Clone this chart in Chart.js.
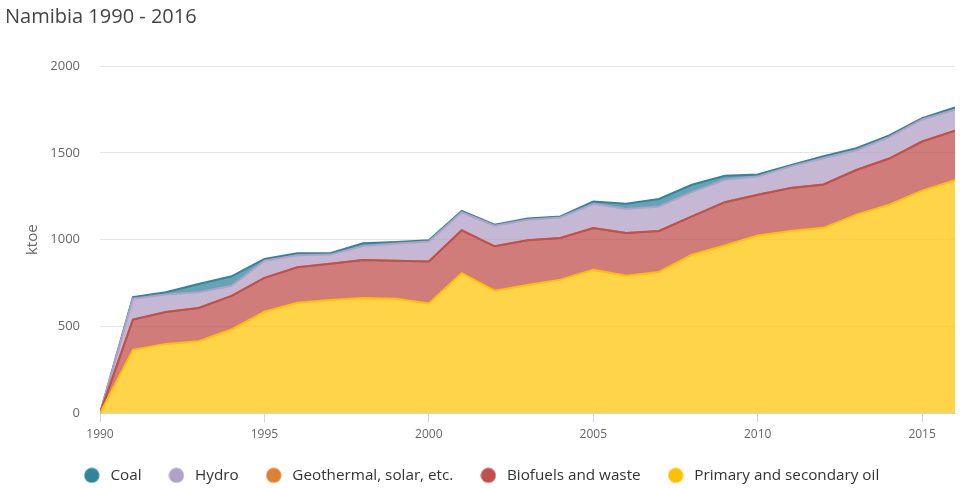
<!DOCTYPE html>
<html>
<head>
<meta charset="utf-8">
<script src="https://cdn.jsdelivr.net/npm/chart.js@4/dist/chart.umd.min.js"></script>
<style>
  html, body { margin: 0; padding: 0; background: #ffffff; }
  #wrap { width: 960px; height: 488px; position: relative; }
</style>
</head>
<body>
<div id="wrap"><canvas id="c" width="960" height="488"></canvas></div>
<script>
const years = [1990,1991,1992,1993,1994,1995,1996,1997,1998,1999,2000,2001,2002,2003,2004,2005,2006,2007,2008,2009,2010,2011,2012,2013,2014,2015,2016];
const oil        = [0,366,400,415,483,585,637,652,664,660,633,807,706,739,770,826,793,814,913,966,1024,1050,1068,1144,1201,1282,1342];
const biofuels   = [0,174,184,192,193,195,204,210,219,219,242,247,256,258,240,241,245,236,221,250,235,247,250,257,266,283,286];
const geothermal = [0,0,0,0,0,0,0,0,0,0,0,0,0,0,0,0,0,0,0,0,0,0,0,0,0,0,0];
const hydro      = [0,120,100,90,59,99,69,52,81,99,115,104,118,118,118,140,139,141,140,129,105,125,151,114,123,127,121];
const coal       = [0,9,13,48,54,10,12,8,15,8,7,7,6,7,6,13,30,43,42,23,11,7,12,12,10,7,13];
const xTicks = [1990,1995,2000,2005,2010,2015];
const yTicks = [0,500,1000,1500,2000];

function dot(color) {
  const c = document.createElement('canvas');
  c.width = 16; c.height = 16;
  const g = c.getContext('2d');
  g.fillStyle = color;
  g.beginPath();
  g.arc(8, 8, 7.6, 0, Math.PI * 2);
  g.fill();
  return c;
}

const seriesDefs = [
  { label: 'Primary and secondary oil', data: oil, line: 'rgb(255,192,0)', fill: 'rgba(255,200,20,0.78)', fillMode: 'origin' },
  { label: 'Biofuels and waste', data: biofuels, line: 'rgb(192,80,77)', fill: 'rgba(192,80,77,0.75)', fillMode: '-1' },
  { label: 'Geothermal, solar, etc.', data: geothermal, line: 'rgb(221,130,52)', fill: 'rgba(221,130,52,0.75)', fillMode: '-1' },
  { label: 'Hydro', data: hydro, line: 'rgb(177,160,199)', fill: 'rgba(177,160,199,0.75)', fillMode: '-1' },
  { label: 'Coal', data: coal, line: 'rgb(49,133,155)', fill: 'rgba(49,133,155,0.75)', fillMode: '-1' }
];

const datasets = seriesDefs.map(s => ({
  label: s.label,
  data: s.data.map((v, i) => ({ x: years[i], y: v })),
  borderColor: s.line,
  backgroundColor: s.fill,
  borderWidth: 2,
  pointRadius: 0,
  pointHoverRadius: 0,
  tension: 0,
  fill: s.fillMode,
  pointStyle: dot(s.line)
}));

const FONT = "'Open Sans', sans-serif";

new Chart(document.getElementById('c'), {
  type: 'line',
  data: { datasets },
  options: {
    responsive: false,
    animation: false,
    devicePixelRatio: 1,
    layout: { padding: { left: 5, right: 5, top: 0, bottom: -5 } },
    plugins: {
      title: {
        display: true,
        text: 'Namibia 1990 - 2016',
        align: 'start',
        color: '#444444',
        font: { family: FONT, size: 20, weight: 'normal' },
        padding: { top: 5, bottom: 37 }
      },
      legend: {
        position: 'bottom',
        reverse: true,
        labels: {
          usePointStyle: true,
          pointStyleWidth: 22,
          boxHeight: 15,
          padding: 24,
          color: '#333333',
          font: { family: FONT, size: 15.25 }
        }
      },
      tooltip: { enabled: false }
    },
    scales: {
      x: {
        type: 'linear',
        min: 1990,
        max: 2016,
        afterBuildTicks: s => { s.ticks = xTicks.map(v => ({ value: v })); },
        afterFit: s => { s.height = s.height - 3; },
        ticks: { color: '#666666', font: { family: FONT, size: 12 }, padding: 5, maxRotation: 0, callback: v => String(v) },
        grid: { drawOnChartArea: false, drawTicks: true, tickLength: 9, color: '#ccd6eb' },
        border: { display: true, color: '#ccd6eb' }
      },
      y: {
        stacked: true,
        min: 0,
        max: 2000,
        afterBuildTicks: s => { s.ticks = yTicks.map(v => ({ value: v })); },
        afterFit: s => { s.width = 95; },
        title: { display: true, text: 'ktoe', color: '#666666', font: { family: FONT, size: 15 }, padding: { top: 19, bottom: 0 } },
        ticks: { color: '#666666', font: { family: FONT, size: 13 }, padding: 20, callback: v => String(v) },
        grid: { color: '#e6e6e6', drawTicks: false, lineWidth: 1 },
        border: { display: false }
      }
    }
  }
});
</script>
</body>
</html>
